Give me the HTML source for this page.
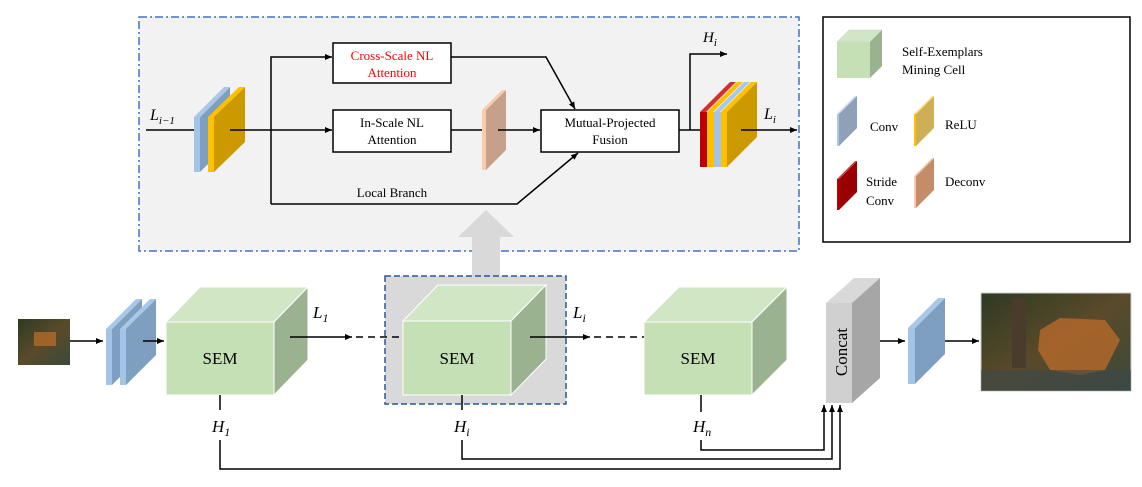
<!DOCTYPE html>
<html><head><meta charset="utf-8"><style>
html,body{margin:0;padding:0;background:#fff;}
svg{display:block;font-family:"Liberation Serif",serif;}
</style></head><body>
<svg width="1142" height="487" viewBox="0 0 1142 487" xmlns="http://www.w3.org/2000/svg">
<defs>
<marker id="ar" markerWidth="8" markerHeight="8" refX="7" refY="3" orient="auto" markerUnits="userSpaceOnUse"><path d="M0,0 L7,3 L0,6 z" fill="#000"/></marker>
<linearGradient id="tg" x1="0" y1="0" x2="1" y2="1"><stop offset="0" stop-color="#2d3a22"/><stop offset="0.5" stop-color="#5a4a2a"/><stop offset="1" stop-color="#3a4a3a"/></linearGradient>
</defs>
<rect x="139" y="17" width="660" height="234" fill="#f2f2f2" stroke="#4472c4" stroke-width="1.5" stroke-dasharray="8,3,2,3"/>
<rect x="823" y="17" width="307" height="225" fill="#fff" stroke="#000" stroke-width="1.5"/>
<polygon points="200,117 230,87 230,142 200,172" fill="#7f9fc0"/>
<polygon points="194,117 224,87 230,87 200,117" fill="#a9c7e6"/>
<rect x="194" y="117" width="6" height="55" fill="#a3c4e6"/>
<polygon points="214,117 245,87 245,142 214,172" fill="#cc9900"/>
<polygon points="208,117 239,87 245,87 214,117" fill="#ffc000"/>
<rect x="208" y="117" width="6" height="55" fill="#ffc000"/>
<text x="150" y="120" font-size="16" font-style="italic">L<tspan font-size="11" dy="4">i−1</tspan></text>
<line x1="146" y1="130" x2="194" y2="130" stroke="#000" stroke-width="1.5"/>
<line x1="230" y1="130" x2="332" y2="130" stroke="#000" stroke-width="1.5" marker-end="url(#ar)"/>
<polyline points="271,204 271,57 332,57" fill="none" stroke="#000" stroke-width="1.5" marker-end="url(#ar)"/>
<polyline points="271,204 517,204 578,153" fill="none" stroke="#000" stroke-width="1.5" marker-end="url(#ar)"/>
<rect x="333" y="43" width="118" height="40" fill="#fff" stroke="#000" stroke-width="1.5"/>
<text x="392" y="60" font-size="13" fill="#ff0000" text-anchor="middle">Cross-Scale NL</text>
<text x="392" y="77" font-size="13" fill="#ff0000" text-anchor="middle">Attention</text>
<rect x="333" y="110" width="118" height="42" fill="#fff" stroke="#000" stroke-width="1.5"/>
<text x="392" y="127" font-size="13" text-anchor="middle">In-Scale NL</text>
<text x="392" y="144" font-size="13" text-anchor="middle">Attention</text>
<line x1="451" y1="130" x2="486" y2="130" stroke="#000" stroke-width="1.5"/>
<polygon points="486,110 506,90 506,150 486,170" fill="#c5a08a"/>
<polygon points="482,110 502,90 506,90 486,110" fill="#f8cbad"/>
<rect x="482" y="110" width="4" height="60" fill="#f8cbad"/>
<line x1="498" y1="130" x2="540" y2="130" stroke="#000" stroke-width="1.5" marker-end="url(#ar)"/>
<polyline points="451,57 546,57 575,109" fill="none" stroke="#000" stroke-width="1.5" marker-end="url(#ar)"/>
<rect x="541" y="110" width="138" height="42" fill="#fff" stroke="#000" stroke-width="1.5"/>
<text x="610" y="127" font-size="13" text-anchor="middle">Mutual-Projected</text>
<text x="610" y="144" font-size="13" text-anchor="middle">Fusion</text>
<text x="392" y="197" font-size="13" text-anchor="middle">Local Branch</text>
<line x1="679" y1="130" x2="700" y2="130" stroke="#000" stroke-width="1.5"/>
<polyline points="690,130 690,54 727,54" fill="none" stroke="#000" stroke-width="1.5" marker-end="url(#ar)"/>
<text x="703" y="42" font-size="15" font-style="italic">H<tspan font-size="11" dy="4">i</tspan></text>
<polygon points="700,112 730,82 736,82 706,112" fill="#d03030"/><rect x="700" y="112" width="7" height="55" fill="#c00000"/>
<polygon points="707,112 737,82 743,82 713,112" fill="#ffc000"/><rect x="707" y="112" width="7" height="55" fill="#ffc000"/>
<polygon points="714,112 744,82 750,82 720,112" fill="#a9c7e6"/><rect x="714" y="112" width="7" height="55" fill="#a3c4e6"/>
<polygon points="727,112 757,82 757,137 727,167" fill="#cc9900"/>
<polygon points="721,112 751,82 757,82 727,112" fill="#ffc000"/><rect x="721" y="112" width="6" height="55" fill="#ffc000"/>
<line x1="741" y1="130" x2="797" y2="130" stroke="#000" stroke-width="1.5" marker-end="url(#ar)"/>
<text x="764" y="119" font-size="16" font-style="italic">L<tspan font-size="11" dy="4">i</tspan></text>
<polygon points="486,210 514,237 500,237 500,276 472,276 472,237 458,237" fill="#d9d9d9"/>
<rect x="385" y="276" width="181" height="128" fill="#d9d9d9" stroke="#2f5597" stroke-width="1.5" stroke-dasharray="6,3"/>
<rect x="18" y="319" width="52" height="46" fill="url(#tg)"/>
<rect x="34" y="332" width="22" height="14" fill="#b06a2a" opacity="0.8"/>
<line x1="70" y1="341" x2="103" y2="341" stroke="#000" stroke-width="1.5" marker-end="url(#ar)"/>
<polygon points="112,329 142,299 142,355 112,385" fill="#7f9fc0"/><polygon points="106,329 136,299 142,299 112,329" fill="#a9c7e6"/><rect x="106" y="329" width="6" height="56" fill="#a3c4e6"/>
<polygon points="126,329 156,299 156,355 126,385" fill="#7f9fc0"/><polygon points="120,329 150,299 156,299 126,329" fill="#a9c7e6"/><rect x="120" y="329" width="6" height="56" fill="#a3c4e6"/>
<line x1="143" y1="341" x2="164" y2="341" stroke="#000" stroke-width="1.5" marker-end="url(#ar)"/>
<g stroke="#fff" stroke-width="1">
<polygon points="166,322 200,287 308,287 274,322" fill="#d0e6c5"/><polygon points="274,322 308,287 308,360 274,395" fill="#9bb290"/><rect x="166" y="322" width="108" height="73" fill="#c5e0b4"/>
<polygon points="403,321 438,285 546,285 511,321" fill="#d0e6c5"/><polygon points="511,321 546,285 546,359 511,395" fill="#9bb290"/><rect x="403" y="321" width="108" height="74" fill="#c5e0b4"/>
<polygon points="644,322 679,287 787,287 752,322" fill="#d0e6c5"/><polygon points="752,322 787,287 787,360 752,395" fill="#9bb290"/><rect x="644" y="322" width="108" height="73" fill="#c5e0b4"/>
</g>
<text x="220" y="364" font-size="17" text-anchor="middle">SEM</text>
<text x="457" y="364" font-size="17" text-anchor="middle">SEM</text>
<text x="698" y="364" font-size="17" text-anchor="middle">SEM</text>
<line x1="290" y1="337" x2="352" y2="337" stroke="#000" stroke-width="1.5" marker-end="url(#ar)"/>
<line x1="356" y1="337" x2="403" y2="337" stroke="#000" stroke-width="1.5" stroke-dasharray="7,5"/>
<text x="313" y="318" font-size="17" font-style="italic">L<tspan font-size="12" dy="4">1</tspan></text>
<line x1="530" y1="337" x2="590" y2="337" stroke="#000" stroke-width="1.5" marker-end="url(#ar)"/>
<line x1="594" y1="337" x2="644" y2="337" stroke="#000" stroke-width="1.5" stroke-dasharray="7,5"/>
<text x="573" y="318" font-size="17" font-style="italic">L<tspan font-size="12" dy="4">i</tspan></text>
<line x1="220" y1="395" x2="220" y2="410" stroke="#000" stroke-width="1.5"/>
<text x="212" y="432" font-size="17" font-style="italic">H<tspan font-size="12" dy="4">1</tspan></text>
<polyline points="220,440 220,469 840,469 840,405" fill="none" stroke="#000" stroke-width="1.5" marker-end="url(#ar)"/>
<line x1="462" y1="395" x2="462" y2="410" stroke="#000" stroke-width="1.5"/>
<text x="454" y="432" font-size="17" font-style="italic">H<tspan font-size="12" dy="4">i</tspan></text>
<polyline points="462,440 462,459 832,459 832,405" fill="none" stroke="#000" stroke-width="1.5" marker-end="url(#ar)"/>
<line x1="701" y1="395" x2="701" y2="412" stroke="#000" stroke-width="1.5"/>
<text x="693" y="432" font-size="17" font-style="italic">H<tspan font-size="12" dy="4">n</tspan></text>
<polyline points="701,440 701,450 824,450 824,405" fill="none" stroke="#000" stroke-width="1.5" marker-end="url(#ar)"/>
<polygon points="826,303 854,278 880,278 852,303" fill="#d9d9d9"/>
<polygon points="852,303 880,278 880,378 852,403" fill="#a6a6a6"/>
<rect x="826" y="303" width="26" height="100" fill="#d0d0d0"/>
<text transform="translate(847,352) rotate(-90)" font-size="17" text-anchor="middle">Concat</text>
<line x1="880" y1="341" x2="905" y2="341" stroke="#000" stroke-width="1.5" marker-end="url(#ar)"/>
<polygon points="915,328 945,298 945,354 915,384" fill="#7f9fc0"/><polygon points="908,328 938,298 945,298 915,328" fill="#a9c7e6"/><rect x="908" y="328" width="7" height="56" fill="#a3c4e6"/>
<line x1="945" y1="341" x2="979" y2="341" stroke="#000" stroke-width="1.5" marker-end="url(#ar)"/>
<rect x="981" y="293" width="150" height="98" fill="url(#tg)" stroke="#ccc"/>
<rect x="1012" y="298" width="14" height="70" fill="#4a3c2c"/>
<polygon points="1040,330 1060,318 1105,320 1120,340 1105,370 1080,375 1050,370 1038,350" fill="#b0672a" opacity="0.85"/>
<rect x="981" y="370" width="150" height="21" fill="#3c4a4a" opacity="0.6"/>
<polygon points="837,42 849,30 882,30 870,42" fill="#d0e6c5" stroke="#ccc" stroke-width="0.5"/>
<polygon points="870,42 882,30 882,66 870,78" fill="#9bb290"/>
<rect x="837" y="42" width="33" height="36" fill="#c5e0b4"/>
<text x="902" y="56" font-size="13">Self-Exemplars</text>
<text x="902" y="74" font-size="13">Mining Cell</text>
<polygon points="839,114 857,96 857,128 839,146" fill="#8fa0b9"/><polygon points="837,114 855,96 857,96 839,114" fill="#c5d5ea"/><rect x="837" y="114" width="2" height="32" fill="#a9c7e6"/>
<text x="870" y="131" font-size="13">Conv</text>
<polygon points="916,114 934,96 934,128 916,146" fill="#cfaf55"/><polygon points="914,114 932,96 934,96 916,114" fill="#ffe08a"/><rect x="914" y="114" width="2" height="32" fill="#ffc000"/>
<text x="945" y="129" font-size="13">ReLU</text>
<polygon points="839,179 857,161 857,192 839,210" fill="#990000"/><polygon points="837,179 855,161 857,161 839,179" fill="#d04040"/><rect x="837" y="179" width="2" height="31" fill="#c00000"/>
<text x="866" y="186" font-size="13">Stride</text>
<text x="866" y="205" font-size="13">Conv</text>
<polygon points="916,176 934,158 934,190 916,208" fill="#c58c6a"/><polygon points="914,176 932,158 934,158 916,176" fill="#f8cbad"/><rect x="914" y="176" width="2" height="32" fill="#f8cbad"/>
<text x="945" y="186" font-size="13">Deconv</text>
</svg>
</body></html>
